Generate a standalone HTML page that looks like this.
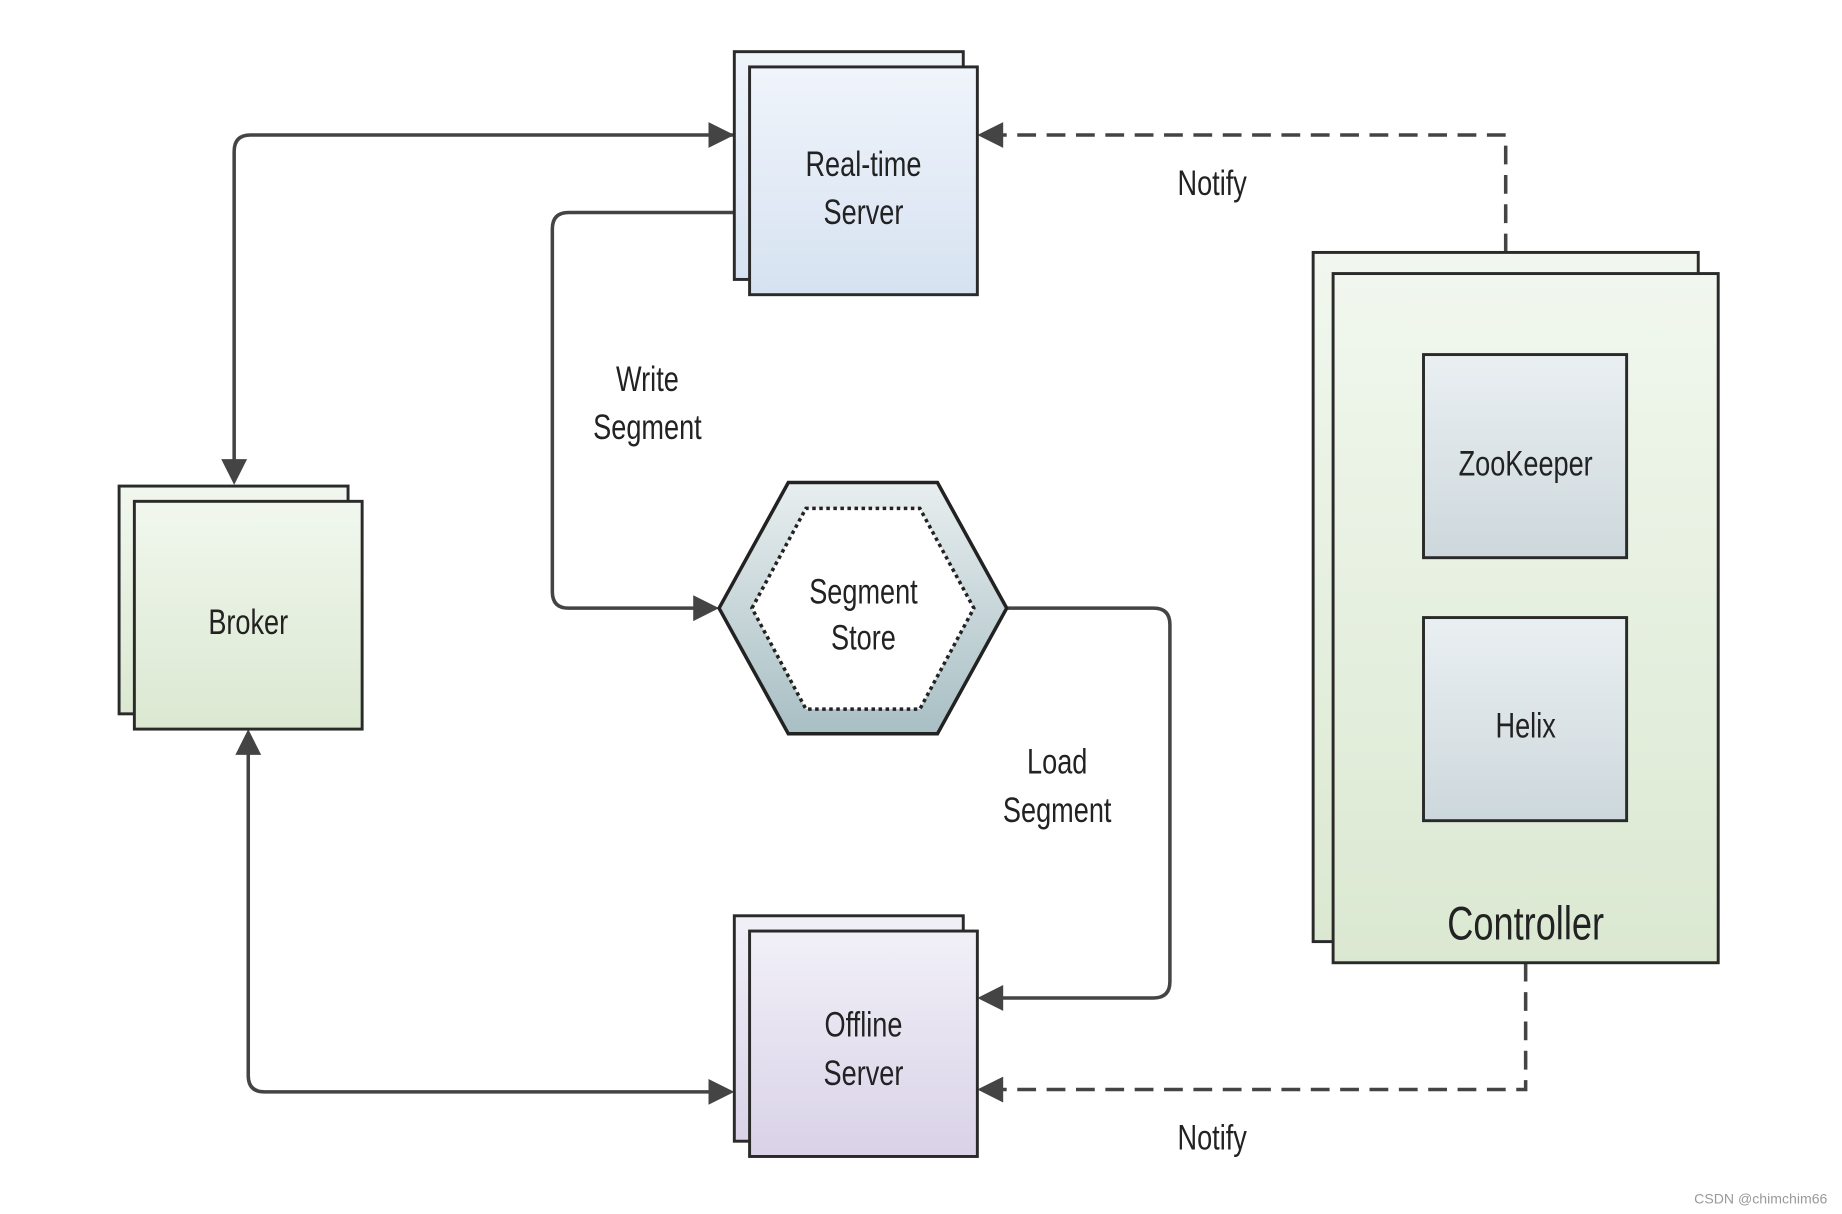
<!DOCTYPE html>
<html><head><meta charset="utf-8"><style>
html,body{margin:0;padding:0;background:#fff;}
svg{display:block;}
text{font-family:"Liberation Sans Narrow","Liberation Sans",sans-serif;fill:#222;}
</style></head><body>
<svg width="1842" height="1214" viewBox="0 0 1568 1034" xmlns="http://www.w3.org/2000/svg">
<defs>
<linearGradient id="gb" x1="0" y1="0" x2="0" y2="1"><stop offset="0" stop-color="#f0f4fb"/><stop offset="1" stop-color="#d6e2f1"/></linearGradient>
<linearGradient id="gg" x1="0" y1="0" x2="0" y2="1"><stop offset="0" stop-color="#f1f7ee"/><stop offset="1" stop-color="#dbe8d1"/></linearGradient>
<linearGradient id="gp" x1="0" y1="0" x2="0" y2="1"><stop offset="0" stop-color="#f1f0f7"/><stop offset="1" stop-color="#d9d2e8"/></linearGradient>
<linearGradient id="gz" x1="0" y1="0" x2="0" y2="1"><stop offset="0" stop-color="#eaeff2"/><stop offset="1" stop-color="#cdd8dc"/></linearGradient>
<linearGradient id="gh" x1="0" y1="0" x2="0" y2="1"><stop offset="0" stop-color="#e8eeef"/><stop offset="1" stop-color="#a8bfc4"/></linearGradient>
</defs>
<g fill="none" stroke="#444" stroke-width="3">
<path d="M625,115 H213 Q199,115 199,129 V398"/>
<path d="M625,181 H484 Q470,181 470,195 V504 Q470,518 484,518 H596"/>
<path d="M857,518 H982 Q996,518 996,532 V836 Q996,850 982,850 H848"/>
<path d="M211,636 V916 Q211,930 225,930 H609"/>
<path d="M1282,215 V115 H848" stroke-dasharray="16,9"/>
<path d="M1299,820 V928 H848" stroke-dasharray="16,9"/>
</g>
<g fill="#444">
<polygon points="625,115 603,104 603,126"/>
<polygon points="199,413 188,391 210,391"/>
<polygon points="612,518 590,507 590,529"/>
<polygon points="832,850 854,839 854,861"/>
<polygon points="211,621 200,643 222,643"/>
<polygon points="625,930 603,919 603,941"/>
<polygon points="832,115 854,104 854,126"/>
<polygon points="832,928 854,917 854,939"/>
</g>
<g stroke="#2a2a2a" stroke-width="2.5">
<rect x="625" y="44" width="195" height="194" fill="url(#gb)"/>
<rect x="638" y="57" width="194" height="194" fill="url(#gb)"/>
<rect x="101" y="414" width="195" height="194" fill="url(#gg)"/>
<rect x="114" y="427" width="194" height="194" fill="url(#gg)"/>
<rect x="625" y="780" width="195" height="192" fill="url(#gp)"/>
<rect x="638" y="793" width="194" height="192" fill="url(#gp)"/>
<rect x="1118" y="215" width="328" height="587" fill="url(#gg)"/>
<rect x="1135" y="233" width="328" height="587" fill="url(#gg)"/>
<rect x="1212" y="302" width="173" height="173" fill="url(#gz)"/>
<rect x="1212" y="526" width="173" height="173" fill="url(#gz)"/>
</g>
<polygon points="612,518 671,411 798,411 857,518 798,625 671,625" fill="url(#gh)" stroke="#222" stroke-width="3"/>
<polygon points="640,518 686,433 783,433 829,518 783,604 686,604" fill="#fff" stroke="#222" stroke-width="3" stroke-dasharray="3,3"/>
<g font-size="30" text-anchor="middle">
<text x="735" y="150" transform="translate(735 0) scale(0.77 1) translate(-735 0)">Real-time</text>
<text x="735" y="191" transform="translate(735 0) scale(0.77 1) translate(-735 0)">Server</text>
<text x="211" y="540" transform="translate(211 0) scale(0.77 1) translate(-211 0)">Broker</text>
<text x="735" y="883" transform="translate(735 0) scale(0.77 1) translate(-735 0)">Offline</text>
<text x="735" y="924" transform="translate(735 0) scale(0.77 1) translate(-735 0)">Server</text>
<text x="735" y="514" transform="translate(735 0) scale(0.77 1) translate(-735 0)">Segment</text>
<text x="735" y="553" transform="translate(735 0) scale(0.77 1) translate(-735 0)">Store</text>
<text x="1299" y="405" transform="translate(1299 0) scale(0.77 1) translate(-1299 0)">ZooKeeper</text>
<text x="1299" y="628" transform="translate(1299 0) scale(0.77 1) translate(-1299 0)">Helix</text>
<text x="1032" y="166" transform="translate(1032 0) scale(0.77 1) translate(-1032 0)">Notify</text>
<text x="1032" y="979" transform="translate(1032 0) scale(0.77 1) translate(-1032 0)">Notify</text>
<text x="551" y="333" transform="translate(551 0) scale(0.77 1) translate(-551 0)">Write</text>
<text x="551" y="374" transform="translate(551 0) scale(0.77 1) translate(-551 0)">Segment</text>
<text x="900" y="659" transform="translate(900 0) scale(0.77 1) translate(-900 0)">Load</text>
<text x="900" y="700" transform="translate(900 0) scale(0.77 1) translate(-900 0)">Segment</text>
<text x="1299" y="800" font-size="40" transform="translate(1299 0) scale(0.77 1) translate(-1299 0)">Controller</text>
</g>
<text x="1556" y="1025" font-size="12" text-anchor="end" style="font-family:'Liberation Sans',sans-serif;fill:#999">CSDN @chimchim66</text>
</svg>
</body></html>
